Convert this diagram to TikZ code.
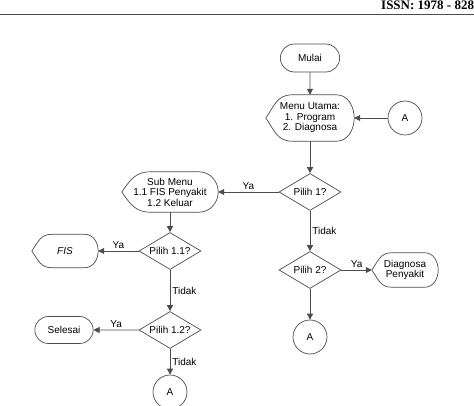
\documentclass[tikz,border=0pt]{standalone}
\usepackage{fontspec}
\setmainfont{Liberation Sans}
\newfontfamily\headfont{Liberation Serif}
\usetikzlibrary{shapes.geometric,shapes.misc,positioning,arrows.meta,calc}

\tikzset{
  flow/.style={draw=black!70, line width=0.7pt, font=\fontsize{10}{10.5}\selectfont, align=center},
  term/.style={flow, rounded rectangle, minimum width=66pt, minimum height=28pt},
  decide/.style={flow, diamond, aspect=1.7, inner sep=0pt, minimum width=62pt, minimum height=37pt},
  conn/.style={flow, circle, inner sep=0pt, minimum size=34pt},
  disp/.style={font=\fontsize{10}{10.5}\selectfont, align=center, inner sep=0pt},
  line/.style={draw=black!70, line width=0.7pt, -{Triangle[length=6pt,width=6pt]}},
  lbl/.style={font=\fontsize{10}{10.5}\selectfont, inner sep=2pt}
}

% outline of a display box around a named node
\newcommand\dispshape[1]{%
  \draw[black!70, line width=0.7pt] (#1.west) to[out=55,in=180,looseness=1.1] ($(#1.north west)!0.3!(#1.north east)$)
    -- ($(#1.north east)!0.2!(#1.north west)$) to[out=0,in=90] (#1.east)
    to[out=-90,in=0] ($(#1.south east)!0.2!(#1.south west)$)
    -- ($(#1.south west)!0.3!(#1.south east)$) to[out=180,in=-55,looseness=1.1] (#1.west);}

\begin{document}
\begin{tikzpicture}[x=1pt, y=1pt]
  \useasboundingbox (0,0) rectangle (474,-406);

  % header
  \node[font=\headfont\bfseries\fontsize{13}{13}\selectfont, anchor=base west, inner sep=0pt] (issn) at (381,-10) {ISSN: 1978 - 828};
  \draw[black!70, line width=1pt] (0,-15) -- (474,-15);

  \node[term] (mulai) at (310,-58) {Mulai};

  \node[disp, minimum width=88pt, minimum height=46pt] (menu) [below of=mulai, node distance=60pt] {Menu Utama:\\ 1. Program\\ 2. Diagnosa};
  \dispshape{menu}
  \node[conn] (aMenu) [right of=menu, node distance=95pt] {A};

  \node[decide] (pilih1) [below of=menu, node distance=74pt] {Pilih 1?};
  \node[disp, minimum width=96pt, minimum height=40pt] (sub) [left of=pilih1, node distance=140pt] {Sub Menu\\ 1.1 FIS Penyakit\\ 1.2 Keluar};
  \dispshape{sub}

  \node[decide] (pilih2) [below of=pilih1, node distance=78pt] {Pilih 2?};
  \node[disp, minimum width=66pt, minimum height=34pt] (diag) [right of=pilih2, node distance=95pt] {Diagnosa\\ Penyakit};
  \dispshape{diag}
  \node[conn] (aRight) [below of=pilih2, node distance=67pt] {A};

  \node[decide] (pilih11) [below of=sub, node distance=59pt] {Pilih 1.1?};
  \node[disp, minimum width=66pt, minimum height=33pt] (fis) [left of=pilih11, node distance=105pt] {\itshape FIS};
  \dispshape{fis}

  \node[decide] (pilih12) [below of=pilih11, node distance=79pt] {Pilih 1.2?};
  \node[term, minimum width=65pt, minimum height=27pt] (selesai) [left of=pilih12, node distance=106pt] {Selesai};
  \node[conn] (aLeft) [below of=pilih12, node distance=62pt] {A};

  \draw[line] (mulai) -- (menu);
  \draw[line] (aMenu) -- (menu.east);
  \draw[line] (menu) -- (pilih1);
  \draw[line] (pilih1) -- node[lbl, above] {Ya} (sub.east);
  \draw[line] (pilih1) -- node[lbl, right] {Tidak} (pilih2);
  \draw[line] (pilih2) -- node[lbl, above] {Ya} (diag.west);
  \draw[line] (pilih2) -- (aRight);
  \draw[line] (sub) -- (pilih11);
  \draw[line] (pilih11) -- node[lbl, above] {Ya} (fis.east);
  \draw[line] (pilih11) -- node[lbl, right] {Tidak} (pilih12);
  \draw[line] (pilih12) -- node[lbl, above] {Ya} (selesai);
  \draw[line] (pilih12) -- node[lbl, right] {Tidak} (aLeft);
\end{tikzpicture}
\end{document}
